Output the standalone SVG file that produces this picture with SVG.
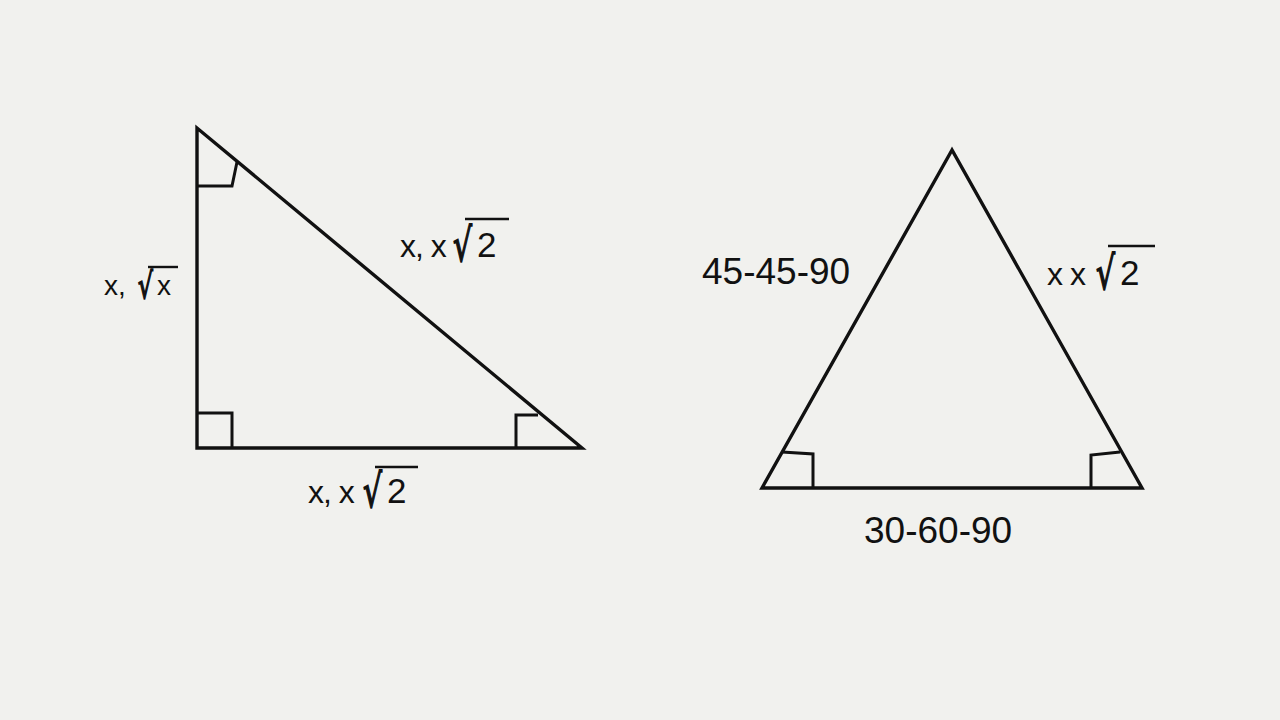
<svg xmlns="http://www.w3.org/2000/svg" width="1280" height="720" viewBox="0 0 1280 720">
<style>
.s{fill:none;stroke:#111;stroke-width:3.4;stroke-linejoin:miter;stroke-linecap:square}
.m{fill:none;stroke:#111;stroke-width:3}
.t{font-family:"Liberation Sans",Arial,sans-serif;fill:#111}
.r{font-family:"DejaVu Sans",sans-serif;fill:#111;stroke:#111;stroke-width:1.6}
.v{stroke:#111;stroke-width:2.4}
</style>
<rect width="1280" height="720" fill="#f1f1ee"/>
<g id="left-triangle">
<polygon class="s" points="197,128 197,448 582,448"/>
<polyline class="m" points="197,186 232,186 237,162"/>
<polyline class="m" points="197,413 232,413 232,448"/>
<polyline class="m" points="516,448 516,415 538,415"/>
</g>
<g id="right-triangle">
<polygon class="s" points="952,150 762,488 1142,488"/>
<polyline class="m" points="782,452 813,454 813,488"/>
<polyline class="m" points="1120,452 1091,455 1091,488"/>
</g>
<g id="labels">
<text class="t" x="104" y="295" font-size="28">x,</text>
<text class="r" transform="translate(138,298) scale(0.65,1)" font-size="36">√</text>
<line class="v" x1="148" y1="267" x2="178" y2="267"/>
<text class="t" x="157" y="295" font-size="28">x</text>

<text class="t" x="400" y="257" font-size="32" letter-spacing="-1">x, x</text>
<text class="r" transform="translate(453,261) scale(0.65,1)" font-size="46">√</text>
<line class="v" x1="465" y1="219" x2="509" y2="219"/>
<text class="t" x="477" y="257" font-size="35">2</text>

<text class="t" x="308" y="503" font-size="32" letter-spacing="-1">x, x</text>
<text class="r" transform="translate(363,507) scale(0.65,1)" font-size="46">√</text>
<line class="v" x1="375" y1="467" x2="418" y2="467"/>
<text class="t" x="387" y="503" font-size="35">2</text>

<text class="t" x="1047" y="285" font-size="32" letter-spacing="-1">x x</text>
<text class="r" transform="translate(1096,289) scale(0.65,1)" font-size="46">√</text>
<line class="v" x1="1108" y1="246" x2="1155" y2="246"/>
<text class="t" x="1120" y="285" font-size="35">2</text>

<text class="t" x="702" y="284" font-size="37">45-45-90</text>
<text class="t" x="864" y="543" font-size="37">30-60-90</text>
</g>
</svg>
